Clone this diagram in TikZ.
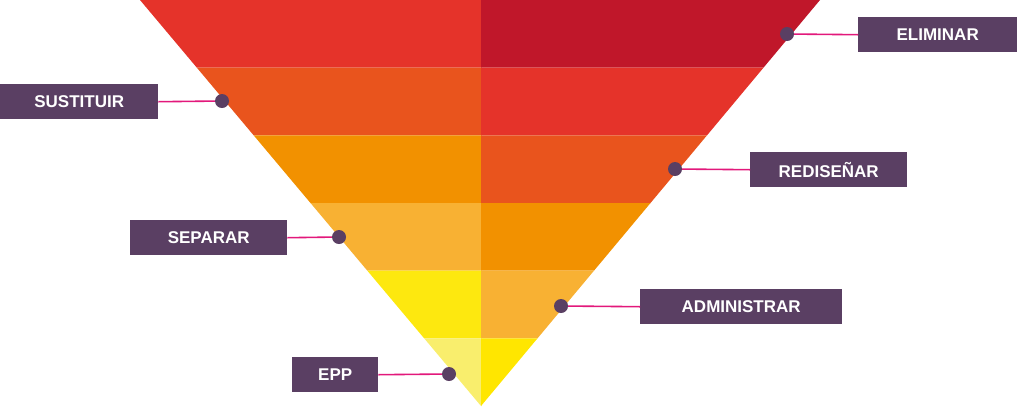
\documentclass[tikz,border=0pt]{standalone}
\usepackage{fontspec}
\setmainfont{Liberation Sans}
\begin{document}
\begin{tikzpicture}[x=1pt,y=-1pt,
  lbl/.style={fill=box,text=white,font=\bfseries\fontsize{17}{17}\selectfont,inner sep=0pt,minimum height=35pt,anchor=north west},
  con/.style={draw=mag,line width=1.6pt},
  dot/.style={circle,fill=box,inner sep=0pt,minimum size=14pt}]
\definecolor{box}{HTML}{5A3F63}
\definecolor{mag}{HTML}{E2187B}
\definecolor{c0}{HTML}{C0172A}
\definecolor{c1}{HTML}{E5332A}
\definecolor{c2}{HTML}{E9541D}
\definecolor{c3}{HTML}{F29100}
\definecolor{c4}{HTML}{F8B133}
\definecolor{c5}{HTML}{FDE80F}
\definecolor{c6}{HTML}{F9EE6D}
\definecolor{c7}{HTML}{FFE600}
\useasboundingbox (0,0) rectangle (1017,408);
\foreach \i/\lc/\rc in {0/c1/c0,1/c2/c1,2/c3/c2,3/c4/c3,4/c5/c4,5/c6/c7}{
  \pgfmathsetmacro\ya{\i*406/6}
  \pgfmathsetmacro\yb{(\i+1)*406/6}
  \pgfmathsetmacro\la{140+(341/406)*\ya}
  \pgfmathsetmacro\lb{140+(341/406)*\yb}
  \pgfmathsetmacro\ra{820-(339/406)*\ya}
  \pgfmathsetmacro\rb{820-(339/406)*\yb}
  \fill[\lc] (\la,\ya) -- (481.5,\ya) -- (481.5,\yb) -- (\lb,\yb) -- cycle;
  \fill[\rc] (481,\ya) -- (\ra,\ya) -- (\rb,\yb) -- (481,\yb) -- cycle;
}
\node[lbl,minimum width=159pt] (b1) at (858,17) {ELIMINAR};
\node[lbl,minimum width=158pt] (b2) at (0,84) {SUSTITUIR};
\node[lbl,minimum width=157pt] (b3) at (750,152) {REDISEÑAR};
\node[lbl,minimum width=157pt] (b4) at (130,220) {SEPARAR};
\node[lbl,minimum width=202pt] (b5) at (640,289) {ADMINISTRAR};
\node[lbl,minimum width=86pt] (b6) at (292,357) {EPP};
\coordinate (p1) at (787,34);
\coordinate (p2) at (222,101);
\coordinate (p3) at (675,169);
\coordinate (p4) at (339,237);
\coordinate (p5) at (561,306);
\coordinate (p6) at (449,374);
\draw[con] (b1.west) -- (p1);
\draw[con] (b2.east) -- (p2);
\draw[con] (b3.west) -- (p3);
\draw[con] (b4.east) -- (p4);
\draw[con] (b5.west) -- (p5);
\draw[con] (b6.east) -- (p6);
\foreach \k in {1,...,6}{\node[dot] (d\k) at (p\k) {};}
\end{tikzpicture}
\end{document}
